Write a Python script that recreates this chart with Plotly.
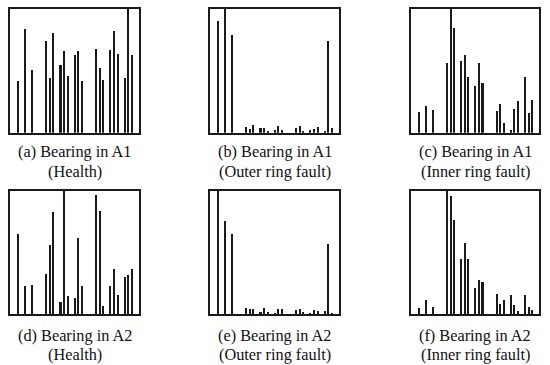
import plotly.graph_objects as go

# harmonic index positions (shared by all panels)
positions = [2, 4, 6, 10, 11, 12, 14, 15, 16, 18, 19, 20, 24, 25, 26, 28, 29, 30, 32, 33, 34]

# normalised amplitudes (values > 1 run off the top of the frame)
a1_health = [0.42, 0.84, 0.51, 0.74, 0.44, 0.81, 0.55, 0.66, 0.46, 0.63, 0.66, 0.42,
             0.68, 0.52, 0.43, 0.67, 0.82, 0.64, 0.44, 1.25, 0.63]
a1_outer = [0.905, 1.25, 0.786, 0.05, 0.03, 0.065, 0.04, 0.04, 0.014, 0.019, 0.057, 0.022,
            0.038, 0.051, 0.01, 0.02, 0.027, 0.049, 0.013, 0.743, 0.04]
a1_inner = [0.165, 0.219, 0.181, 0.562, 1.25, 0.843, 0.578, 0.630, 0.454, 0.378, 0.565, 0.405,
            0.176, 0.235, 0.078, 0.022, 0.192, 0.259, 0.451, 0.159, 0.268]
a2_health = [0.655, 0.235, 0.243, 0.326, 0.563, 0.827, 0.10, 1.25, 0.148, 0.135, 0.62, 0.232,
             0.965, 0.838, 0.067, 0.229, 0.367, 0.159, 0.302, 0.321, 0.369]
a2_outer = [1.25, 0.757, 0.649, 0.051, 0.046, 0.043, 0.019, 0.054, 0.019, 0.016, 0.049, 0.043,
            0.041, 0.046, 0.022, 0.014, 0.041, 0.027, 0.027, 0.568, 0.016]
a2_inner = [0.054, 0.121, 0.062, 1.25, 0.957, 0.765, 0.45, 0.577, 0.447, 0.218, 0.278, 0.261,
            0.17, 0.089, 0.116, 0.162, 0.075, 0.032, 0.156, 0.059, 0.04]

panel_values = [a1_health, a1_outer, a1_inner, a2_health, a2_outer, a2_inner]
caption_line1 = ["(a) Bearing in A1", "(b) Bearing in A1", "(c) Bearing in A1",
                 "(d) Bearing in A2", "(e) Bearing in A2", "(f) Bearing in A2"]
caption_line2 = ["(Health)", "(Outer ring fault)", "(Inner ring fault)",
                 "(Health)", "(Outer ring fault)", "(Inner ring fault)"]

W, H = 550, 365
col_px = [(10.3, 139.3), (210.3, 339.3), (411.0, 539.3)]
row_px = [(9.0, 132.7), (190.7, 314.3)]
caption_y_px = [(151.5, 171.5), (335.0, 354.5)]

fig = go.Figure()
layout = dict(
    width=W, height=H,
    margin=dict(l=0, r=0, t=0, b=0),
    paper_bgcolor="white", plot_bgcolor="white",
    showlegend=False,
    bargap=0,
)
annotations = []
font_family = "Liberation Serif"

for i, vals in enumerate(panel_values):
    r, c = divmod(i, 3)
    k = "" if i == 0 else str(i + 1)
    fig.add_trace(go.Bar(
        x=positions, y=vals, width=0.45,
        marker=dict(color="#1a1a1a", line=dict(width=0)),
        xaxis="x" + k, yaxis="y" + k, hoverinfo="skip",
    ))
    x0, x1 = col_px[c]
    y0, y1 = row_px[r]
    axstyle = dict(showline=True, mirror=True, linecolor="#1a1a1a", linewidth=1.6,
                   showgrid=False, zeroline=False, showticklabels=False, ticks="")
    layout["xaxis" + k] = dict(domain=[x0 / W, x1 / W], range=[-0.25, 35.95],
                               anchor="y" + k, **axstyle)
    layout["yaxis" + k] = dict(domain=[1 - y1 / H, 1 - y0 / H], range=[0, 1],
                               anchor="x" + k, **axstyle)
    cx = (x0 + x1) / 2 / W
    for txt, ypx in zip([caption_line1[i], caption_line2[i]], caption_y_px[r]):
        annotations.append(dict(
            text=txt, x=cx, y=1 - ypx / H, xref="paper", yref="paper",
            xanchor="center", yanchor="middle", showarrow=False,
            font=dict(family=font_family, size=16.3, color="#111"),
        ))

layout["annotations"] = annotations
fig.update_layout(**layout)
fig.write_html(
    "out.html",
    config={"displayModeBar": False},
    post_script="document.body.style.margin='0';document.body.style.overflow='hidden';",
)
